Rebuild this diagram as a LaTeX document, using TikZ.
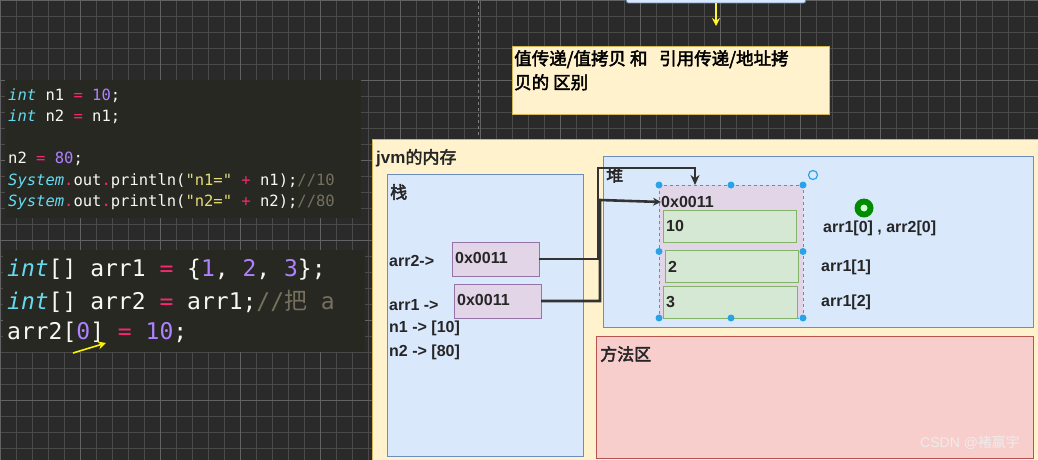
\documentclass[tikz,border=0pt]{standalone}
\usepackage{fontspec}
\setmainfont{Liberation Sans}
\setmonofont{DejaVu Sans Mono}
\newfontfamily\cjk{Noto Sans CJK SC}[AutoFakeBold=2.5]
\usetikzlibrary{arrows.meta}
\definecolor{bgc}{HTML}{2A2A2A}
\definecolor{gridc}{HTML}{4A4A4A}
\definecolor{gridm}{HTML}{626262}
\definecolor{codebg}{HTML}{272822}
\definecolor{yfill}{HTML}{FFF2CC}
\definecolor{ydraw}{HTML}{D6B656}
\definecolor{bfill}{HTML}{DAE8FC}
\definecolor{bdraw}{HTML}{6C8EBF}
\definecolor{pfill}{HTML}{E1D5E7}
\definecolor{pdraw}{HTML}{9673A6}
\definecolor{gfill}{HTML}{D5E8D4}
\definecolor{gdraw}{HTML}{82B366}
\definecolor{rfill}{HTML}{F8CECC}
\definecolor{rdraw}{HTML}{B85450}
\definecolor{kwc}{HTML}{66D9EF}
\definecolor{numc}{HTML}{AE81FF}
\definecolor{opc}{HTML}{F92672}
\definecolor{strc}{HTML}{E6DB74}
\definecolor{cmc}{HTML}{75715E}
\definecolor{txc}{HTML}{F8F8F2}
\definecolor{selc}{HTML}{29A3E8}
\newcommand{\kw}[1]{\textcolor{kwc}{\itshape #1}}
\newcommand{\nm}[1]{\textcolor{numc}{#1}}
\newcommand{\op}[1]{\textcolor{opc}{#1}}
\newcommand{\st}[1]{\textcolor{strc}{#1}}
\newcommand{\cm}[1]{\textcolor{cmc}{#1}}
\begin{document}
\begin{tikzpicture}[x=1pt,y=-1pt,
  box/.style={draw,line width=0.9pt,inner sep=0pt,outer sep=0pt},
  lbl/.style={anchor=west,inner sep=0pt,font=\bfseries\fontsize{16}{18}\selectfont,text=black!85},
  codeline/.style={anchor=west,inner sep=0pt,text=txc},
  conn/.style={line width=2.6pt,draw=black!80},
  handle/.style={circle,fill=selc,inner sep=0pt,minimum size=7pt}]
\useasboundingbox (0,0) rectangle (1038,460);
\fill[bgc] (0,0) rectangle (1038,460);
\foreach \i in {0,16,...,1040} \draw[gridc,line width=0.6pt] (\i,0) -- (\i,460);
\foreach \i in {0,16,...,460} \draw[gridc,line width=0.6pt] (0,\i) -- (1038,\i);
\foreach \i in {0,80,...,1040} \draw[gridm,line width=0.8pt] (\i,0) -- (\i,460);
\foreach \i in {0,80,...,460} \draw[gridm,line width=0.8pt] (0,\i) -- (1038,\i);
\draw[gray,dashed,line width=0.6pt] (478,0) -- (478,135);
% top box and arrow
\node[box,draw=bdraw,fill=bfill,minimum width=179pt,minimum height=6pt,rounded corners=2pt] (topbox) at (716,0) {};
\coordinate (tend) at (716,26);
\draw[-{Stealth[length=8pt,width=8pt]},line width=1.4pt,draw=yellow!80] (topbox.south) -- (tend);
% note
\node[box,draw=ydraw,fill=yfill,minimum width=317pt,minimum height=68pt] (note) at (670.5,80) {};
\node[anchor=north west,inner sep=0pt,align=left,font=\cjk\bfseries\fontsize{17.5}{24}\selectfont] (notetxt) at (514,50) {值传递/值拷贝 和\ \ \ 引用传递/地址拷\\贝的 区别};
% code block 1
\node[box,draw=none,fill=codebg,minimum width=356pt,minimum height=138pt] (code1) at (183,149) {};
\begin{scope}[every node/.append style={font=\ttfamily\fontsize{15.5}{17}\selectfont}]
\node[codeline] (c1) at (8,96) {\kw{int} n1 \op{=} \nm{10};};
\node[codeline] (c2) at (8,117) {\kw{int} n2 \op{=} n1;};
\node[codeline] (c3) at (8,159) {n2 \op{=} \nm{80};};
\node[codeline] (c4) at (8,181) {\kw{System}\op{.}out\op{.}println(\st{"n1="} \op{+} n1);\cm{//10}};
\node[codeline] (c5) at (8,202) {\kw{System}\op{.}out\op{.}println(\st{"n2="} \op{+} n2);\cm{//80}};
\end{scope}
% code block 2
\node[box,draw=none,fill=codebg,minimum width=362pt,minimum height=102pt] (code2) at (184,301) {};
\begin{scope}[every node/.append style={font=\ttfamily\fontsize{23}{25}\selectfont}]
\node[codeline] (d1) at (7,270) {\kw{int}[] arr1 \op{=} \{\nm{1}, \nm{2}, \nm{3}\};};
\node[codeline] (d2) at (7,301) {\kw{int}[] arr2 \op{=} arr1;\cm{//{\cjk 把} a}};
\node[codeline] (d3) at (7,332) {arr2[\nm{0}] \op{=} \nm{10};};
\end{scope}
\coordinate (ya) at (73,353);
\coordinate (yb) at (106,343);
\draw[-{Stealth[length=8pt,width=8pt]},line width=1.6pt,draw=yellow] (ya) -- (yb);
% jvm memory
\node[box,draw=ydraw,fill=yfill,minimum width=667pt,minimum height=322pt] (jvm) at (706,300) {};
\node[lbl,font=\bfseries\fontsize{17}{19}\selectfont] (jvmt) at (376,158) {jvm{\cjk\bfseries 的内存}};
\node[box,draw=bdraw,fill=bfill,minimum width=196pt,minimum height=282pt] (stack) at (485,315) {};
\node[lbl,font=\cjk\bfseries\fontsize{17}{19}\selectfont] (stackt) at (390,192) {栈};
\node[lbl] (arr2l) at (389,261) {arr2->};
\node[box,draw=pdraw,fill=pfill,minimum width=87pt,minimum height=34pt] (arr2b) at (495.5,259) {};
\node[lbl] (arr2v) at (455,258) {0x0011};
\node[lbl] (arr1l) at (389,305) {arr1 ->};
\node[box,draw=pdraw,fill=pfill,minimum width=87pt,minimum height=34pt] (arr1b) at (497.5,301) {};
\node[lbl] (arr1v) at (457,300) {0x0011};
\node[lbl] (n1l) at (389,328) {n1 -> [10]};
\node[lbl] (n2l) at (389,352) {n2 -> [80]};
% heap
\node[box,draw=bdraw,fill=bfill,minimum width=430pt,minimum height=171pt] (heap) at (818,241.5) {};
\node[lbl,font=\cjk\bfseries\fontsize{17}{19}\selectfont] (heapt) at (606,175) {堆};
\node[box,draw=none,fill=pfill,minimum width=144pt,minimum height=133pt] (arr) at (731,251.5) {};
\draw[selc,dashed,line width=0.8pt] (arr.north west) rectangle (arr.south east);
\node[lbl] (arrv) at (661,202) {0x0011};
\node[box,draw=gdraw,fill=gfill,minimum width=133pt,minimum height=32pt] (cell0) at (729.5,226) {};
\node[box,draw=gdraw,fill=gfill,minimum width=133pt,minimum height=32pt] (cell1) at (731.5,266) {};
\node[box,draw=gdraw,fill=gfill,minimum width=134pt,minimum height=32pt] (cell2) at (730,302) {};
\node[lbl] (v0) at (666,226) {10};
\node[lbl] (v1) at (668,267) {2};
\node[lbl] (v2) at (666,302) {3};
\node[lbl] (i0) at (823,228) {arr1[0] , arr2[0]};
\node[lbl] (i1) at (821,267) {arr1[1]};
\node[lbl] (i2) at (821,302) {arr1[2]};
\foreach \p in {north west,north,north east,west,east,south west,south,south east}
  \node[handle] at (arr.\p) {};
\node[circle,draw=selc,line width=1.2pt,minimum size=9pt,inner sep=0pt] (rot) at (813,175) {};
\node[circle,fill=green!55!black,minimum size=19pt,inner sep=0pt] (mv) at (864,208) {};
\node[circle,fill=white!80!green,minimum size=7pt,inner sep=0pt] (mvc) at (864,208) {};
% method area
\node[box,draw=rdraw,fill=rfill,minimum width=437pt,minimum height=122pt] (meth) at (814.5,397) {};
\node[lbl,font=\cjk\bfseries\fontsize{17}{19}\selectfont] (metht) at (600,354) {方法区};
% connectors
\coordinate (h1) at (695,185);
\draw[conn,-{Stealth[length=10pt,width=9pt]}] (arr2b.east) -- (598,259) -- (598,168) -- (695,168) -- (h1);
\draw[conn,-{Stealth[length=8pt,width=8pt]}] (arr1b.east) -- (600,301) -- (600,200) -- (arrv.west);
% watermark
\node[anchor=west,inner sep=0pt,text=white!85!gray,font=\fontsize{14}{16}\selectfont] (wm) at (920,443) {CSDN @{\cjk 褚嬴宇}};
\end{tikzpicture}
\end{document}
